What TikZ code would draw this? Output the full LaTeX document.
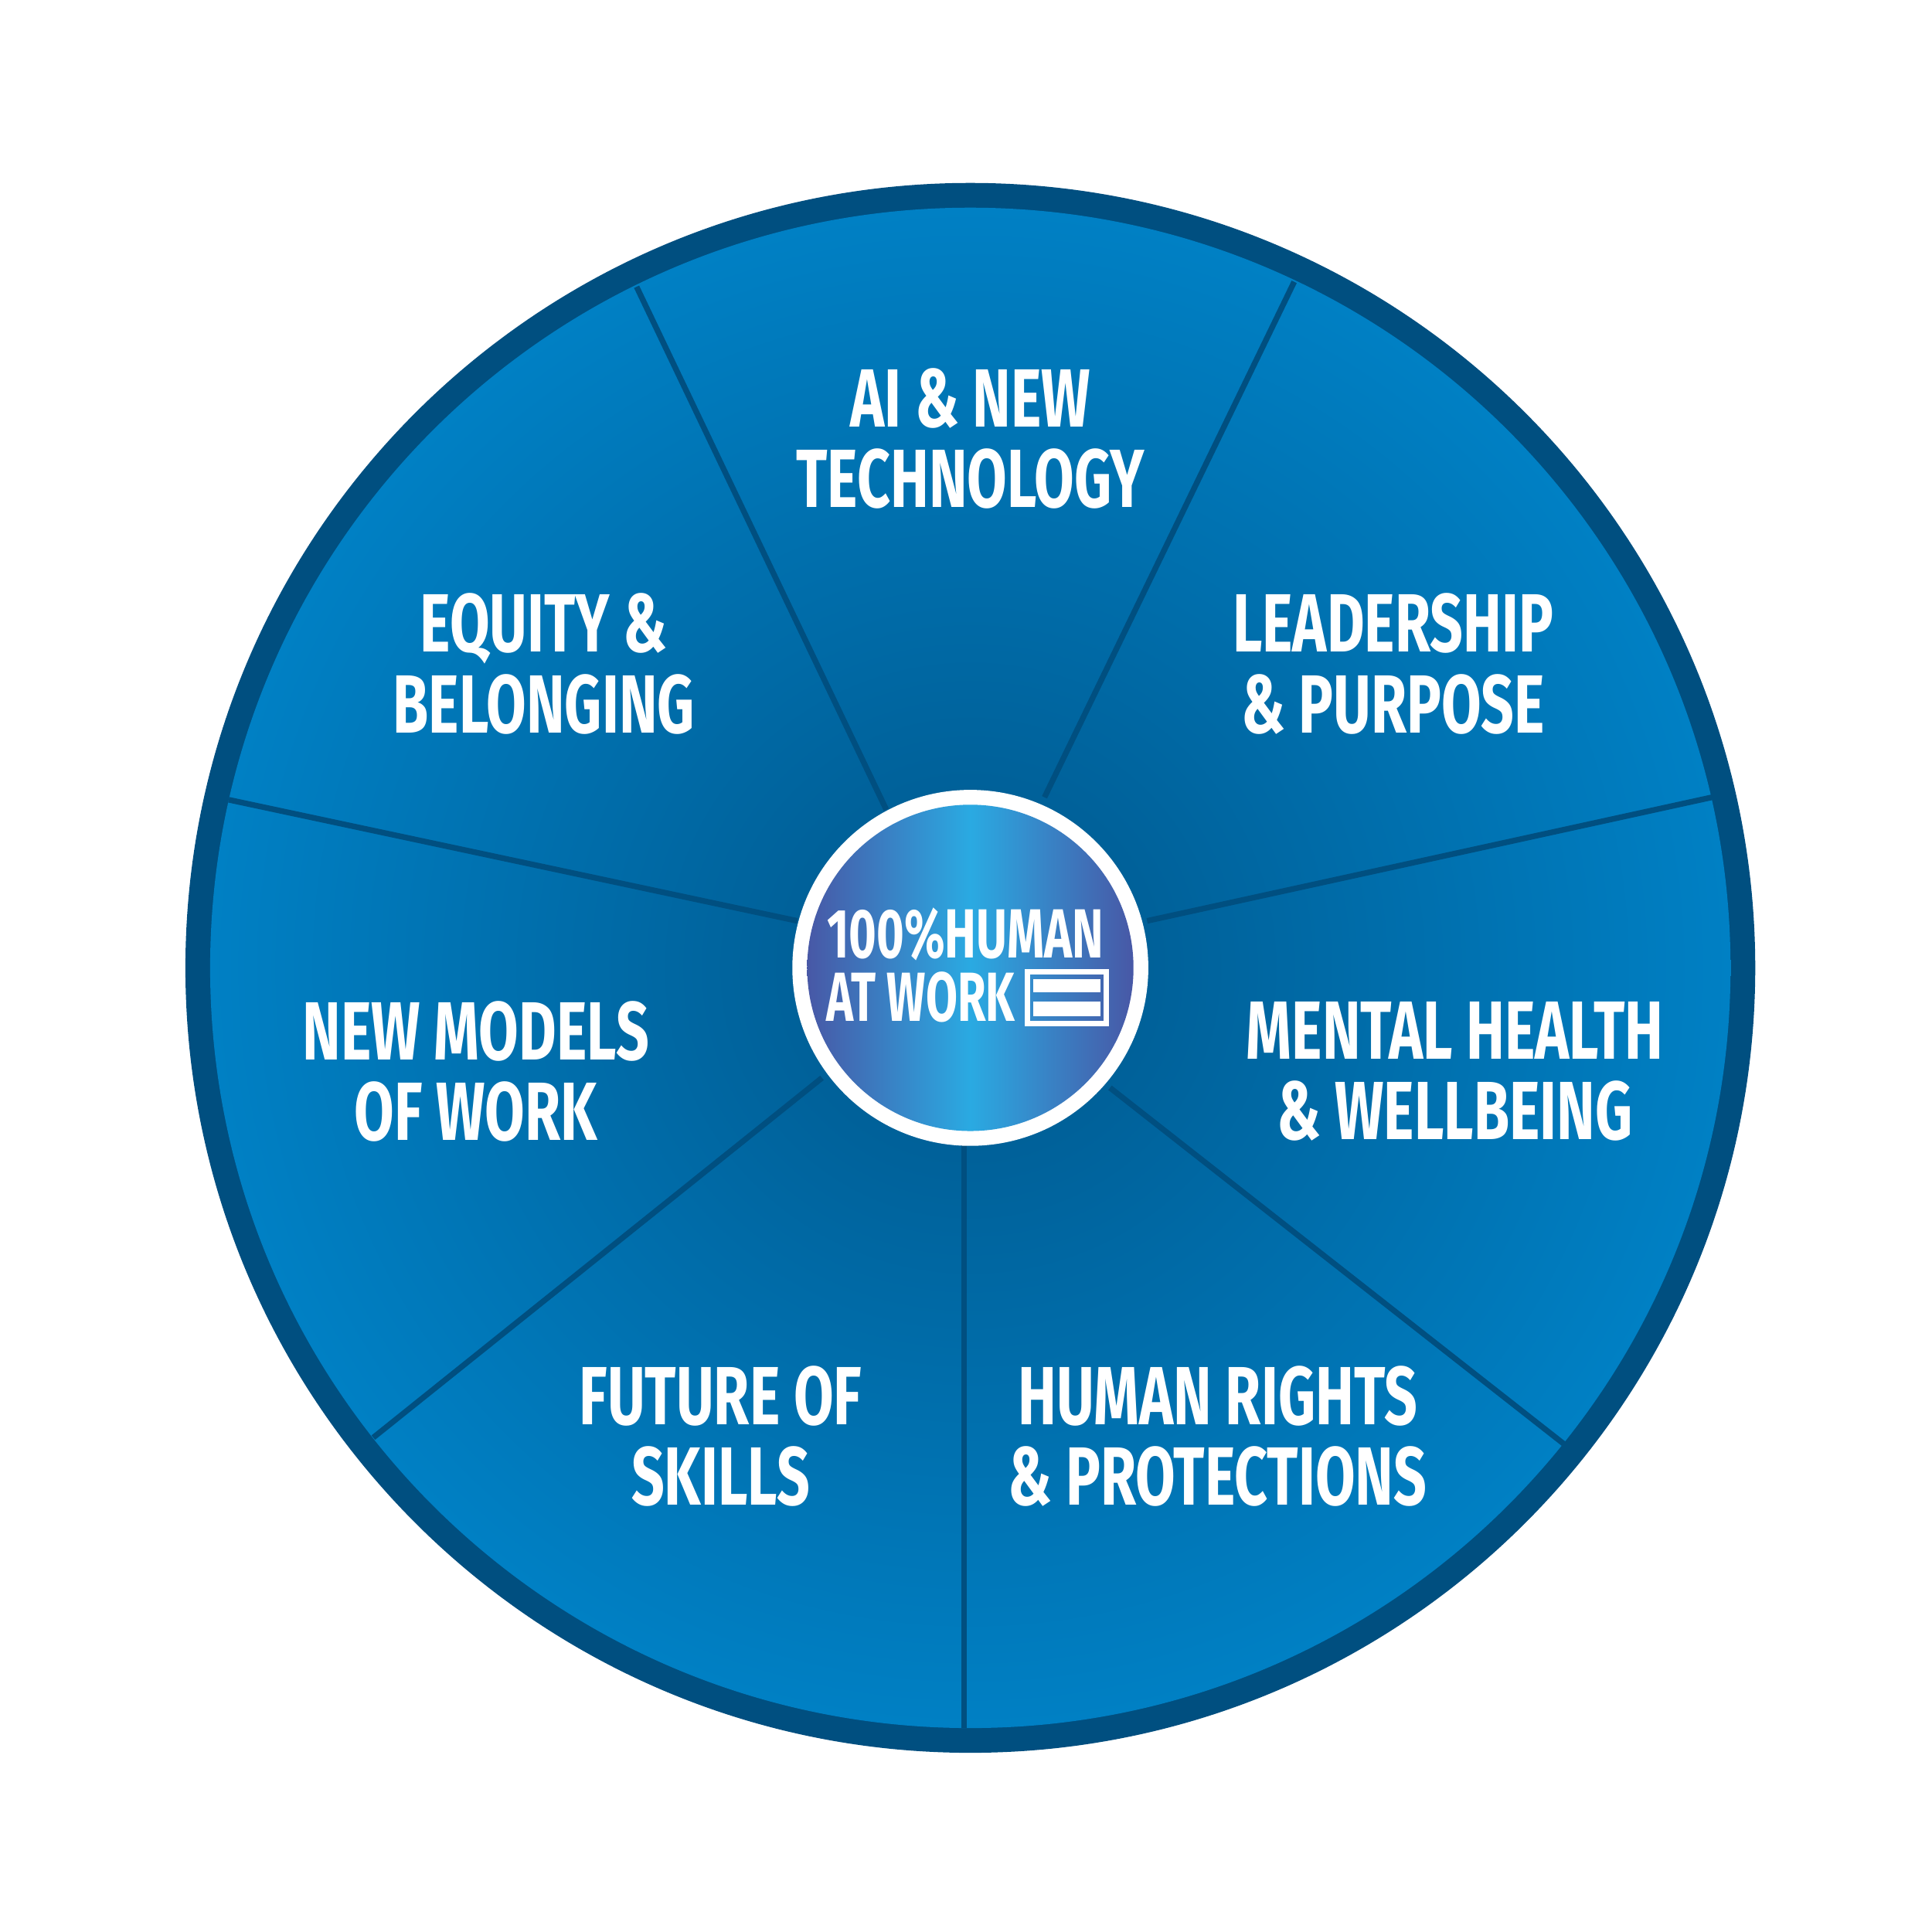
\documentclass[tikz,border=0pt]{standalone}
\usepackage{fontspec}
\setmainfont{Fira Sans}
\usetikzlibrary{shadings}
\definecolor{rim}{HTML}{004F80}
\definecolor{segout}{HTML}{0080C4}
\definecolor{segin}{HTML}{00578C}
\definecolor{cpurple}{HTML}{4858A6}
\definecolor{clight}{HTML}{2AAAE2}
\tikzset{
  lbl/.style={text=white,align=center,font=\bfseries\fontsize{19}{18.5}\selectfont},
  logotxt/.style={text=white,inner sep=0pt,font=\bfseries\fontsize{16}{16}\selectfont},
  divider/.style={draw=rim,line width=1.3pt}
}
\newcommand{\nar}[1]{\scalebox{0.7}[1]{#1}}
\begin{document}
\begin{tikzpicture}[x=0.01cm,y=-0.01cm]
\useasboundingbox (0,0) rectangle (1563,1563);
\fill[white] (0,0) rectangle (1563,1563);
\coordinate (c) at (785,783);
\fill[rim] (c) circle (635);
\shade[inner color=segin,outer color=segout] (c) circle (615);
% dividers
\coordinate (i1) at (717,655); \coordinate (o1) at (515,232);
\coordinate (i2) at (845,645); \coordinate (o2) at (1047,228);
\coordinate (i3) at (928,745); \coordinate (o3) at (1385,645);
\coordinate (i4) at (898,880); \coordinate (o4) at (1265,1168);
\coordinate (i5) at (780,925); \coordinate (o5) at (780,1398);
\coordinate (i6) at (665,872); \coordinate (o6) at (302,1163);
\coordinate (i7) at (645,745); \coordinate (o7) at (185,647);
\foreach \k in {1,...,7}{\draw[divider] (i\k) -- (o\k);}
% center
\fill[white] (c) circle (144);
\shade[left color=cpurple,right color=cpurple,middle color=clight] (c) circle (132);
\node[logotxt] (logo1) at (781,756) {\scalebox{0.68}[1]{100\%HUMAN}};
\node[logotxt] (logo2) at (745,807) {\scalebox{0.66}[1]{AT WORK}};
\draw[white,line width=1.2pt] (831,786) rectangle (895,828);
\fill[white] (836,792) rectangle (890,803);
\fill[white] (836,810) rectangle (890,822);
\node[lbl] (ai) at (785,355) {\nar{AI \& NEW}\\\nar{TECHNOLOGY}};
\node[lbl] (eq) at (440,537) {\nar{EQUITY \&}\\\nar{BELONGING}};
\node[lbl] (lp) at (1127,537) {\nar{LEADERSHIP}\\\nar{\& PURPOSE}};
\node[lbl] (nm) at (385,867) {\nar{NEW MODELS}\\\nar{OF WORK}};
\node[lbl] (mh) at (1177,867) {\nar{MENTAL HEALTH}\\\nar{\& WELLBEING}};
\node[lbl] (fs) at (583,1162) {\nar{FUTURE OF}\\\nar{SKILLS}};
\node[lbl] (hr) at (985,1162) {\nar{HUMAN RIGHTS}\\\nar{\& PROTECTIONS}};
\end{tikzpicture}
\end{document}
